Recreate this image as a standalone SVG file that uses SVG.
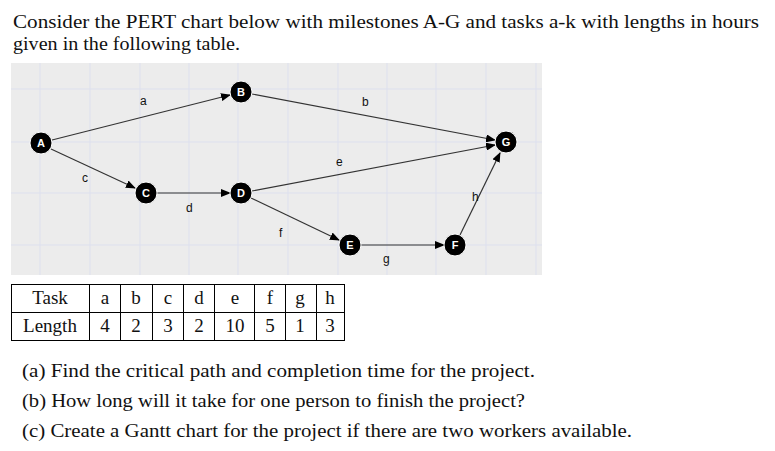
<svg xmlns="http://www.w3.org/2000/svg" width="775" height="451" viewBox="0 0 775 451">
<style>
.t{font-family:"Liberation Serif",serif;font-size:19px;fill:#111}
.lb{font-family:"Liberation Sans",sans-serif;font-size:12px;fill:#111}
.nd{fill:#000;stroke:#fff;stroke-width:1}
.nt{font-family:"Liberation Sans",sans-serif;font-size:11px;font-weight:bold;fill:#fff;text-anchor:middle}
.e{stroke:#333;stroke-width:1.2;fill:none;marker-end:url(#ar)}
.g{stroke:#dde0ee;stroke-width:1}
.c{fill:none;stroke:#000;stroke-width:1}
.tc{text-anchor:middle}
</style>
<defs><marker id="ar" markerWidth="10" markerHeight="8" refX="9" refY="4" orient="auto" markerUnits="userSpaceOnUse"><path d="M0,0 L10,4 L0,8 Z" fill="#000"/></marker></defs>
<rect width="775" height="451" fill="#fff"/>
<text class="t" x="13" y="28" textLength="746" lengthAdjust="spacingAndGlyphs">Consider the PERT chart below with milestones A-G and tasks a-k with lengths in hours</text>
<text class="t" x="13" y="50" textLength="227" lengthAdjust="spacingAndGlyphs">given in the following table.</text>
<rect x="11" y="63" width="531" height="212" fill="#ececec"/>
<g id="grid">
<line class="g" x1="40" y1="63" x2="40" y2="275"/><line class="g" x1="90" y1="63" x2="90" y2="275"/><line class="g" x1="140" y1="63" x2="140" y2="275"/><line class="g" x1="189" y1="63" x2="189" y2="275"/><line class="g" x1="238" y1="63" x2="238" y2="275"/><line class="g" x1="288" y1="63" x2="288" y2="275"/><line class="g" x1="338" y1="63" x2="338" y2="275"/><line class="g" x1="387" y1="63" x2="387" y2="275"/><line class="g" x1="436" y1="63" x2="436" y2="275"/><line class="g" x1="486" y1="63" x2="486" y2="275"/><line class="g" x1="536" y1="63" x2="536" y2="275"/>
<line class="g" x1="11" y1="89" x2="542" y2="89"/><line class="g" x1="11" y1="142" x2="542" y2="142"/><line class="g" x1="11" y1="193" x2="542" y2="193"/><line class="g" x1="11" y1="245" x2="542" y2="245"/>
</g>
<g id="connectors">
<line class="e" x1="52" y1="140" x2="230" y2="95"/>
<line class="e" x1="252" y1="94" x2="495" y2="140"/>
<line class="e" x1="51" y1="149" x2="135" y2="188"/>
<line class="e" x1="157" y1="193" x2="230" y2="193"/>
<line class="e" x1="252" y1="191" x2="495" y2="145"/>
<line class="e" x1="251" y1="198" x2="339" y2="240"/>
<line class="e" x1="361" y1="245" x2="444" y2="245"/>
<line class="e" x1="460" y1="235" x2="500" y2="153"/>
<text class="lb" x="140" y="105">a</text><text class="lb" x="362" y="106">b</text><text class="lb" x="82" y="182">c</text><text class="lb" x="186" y="212">d</text><text class="lb" x="336" y="166">e</text><text class="lb" x="279" y="237">f</text><text class="lb" x="383" y="263">g</text><text class="lb" x="472" y="201">h</text>
</g>
<g id="A"><circle class="nd" cx="41" cy="143" r="11"/><text class="nt" x="41" y="147">A</text></g>
<g id="B"><circle class="nd" cx="241" cy="92" r="11"/><text class="nt" x="241" y="96">B</text></g>
<g id="C"><circle class="nd" cx="146" cy="193" r="11"/><text class="nt" x="146" y="197">C</text></g>
<g id="D"><circle class="nd" cx="241" cy="193" r="11"/><text class="nt" x="241" y="197">D</text></g>
<g id="E"><circle class="nd" cx="350" cy="245" r="11"/><text class="nt" x="350" y="249">E</text></g>
<g id="F"><circle class="nd" cx="455" cy="245" r="11"/><text class="nt" x="455" y="249">F</text></g>
<g id="G"><circle class="nd" cx="506" cy="142" r="11"/><text class="nt" x="506" y="146">G</text></g>
<g id="table">
<rect class="c" x="11.5" y="284.5" width="333" height="56"/>
<line class="c" x1="11" y1="312.5" x2="345" y2="312.5"/>
<line class="c" x1="89.5" y1="284" x2="89.5" y2="341"/><line class="c" x1="120.5" y1="284" x2="120.5" y2="341"/><line class="c" x1="152.5" y1="284" x2="152.5" y2="341"/><line class="c" x1="183.5" y1="284" x2="183.5" y2="341"/><line class="c" x1="214.5" y1="284" x2="214.5" y2="341"/><line class="c" x1="254.5" y1="284" x2="254.5" y2="341"/><line class="c" x1="285.5" y1="284" x2="285.5" y2="341"/><line class="c" x1="316.5" y1="284" x2="316.5" y2="341"/>
<text class="t tc" x="50" y="304">Task</text><text class="t tc" x="105" y="304">a</text><text class="t tc" x="136" y="304">b</text><text class="t tc" x="168" y="304">c</text><text class="t tc" x="199" y="304">d</text><text class="t tc" x="235" y="304">e</text><text class="t tc" x="270" y="304">f</text><text class="t tc" x="300" y="304">g</text><text class="t tc" x="330" y="304">h</text>
<text class="t tc" x="50" y="332">Length</text><text class="t tc" x="105" y="332">4</text><text class="t tc" x="136" y="332">2</text><text class="t tc" x="168" y="332">3</text><text class="t tc" x="199" y="332">2</text><text class="t tc" x="235" y="332">10</text><text class="t tc" x="270" y="332">5</text><text class="t tc" x="300" y="332">1</text><text class="t tc" x="330" y="332">3</text>
</g>
<text class="t" x="22" y="377" textLength="513" lengthAdjust="spacingAndGlyphs">(a)  Find the critical path and completion time for the project.</text>
<text class="t" x="22" y="407" textLength="503" lengthAdjust="spacingAndGlyphs">(b)  How long will it take for one person to finish the project?</text>
<text class="t" x="22" y="437" textLength="610" lengthAdjust="spacingAndGlyphs">(c)  Create a Gantt chart for the project if there are two workers available.</text>
</svg>
